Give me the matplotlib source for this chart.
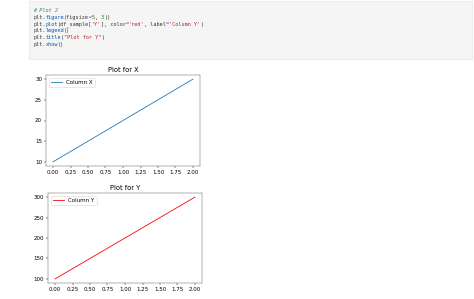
import matplotlib
matplotlib.use("Agg")
import matplotlib.pyplot as plt
from matplotlib.patches import Rectangle

# data shown in the two plots
idx = [0, 1, 2]
col_x = [10, 20, 30]
col_y = [100, 200, 300]
xticks = [0.0, 0.25, 0.5, 0.75, 1.0, 1.25, 1.5, 1.75, 2.0]

# code cell text, split into (token, kind) pieces
code_lines = [
    [("# Plot 2", "com")],
    [("plt.", "txt"), ("figure", "fn"), ("(figsize", "txt"), ("=", "op"),
     ("5", "num"), (", ", "txt"), ("3", "num"), ("))", "txt")],
    [("plt.", "txt"), ("plot", "fn"), ("(df_sample[", "txt"), ("'Y'", "str"),
     ("], color", "txt"), ("=", "op"), ("'red'", "str"), (", label", "txt"),
     ("=", "op"), ("'Column Y'", "str"), (")", "txt")],
    [("plt.", "txt"), ("legend", "fn"), ("()", "txt")],
    [("plt.", "txt"), ("title", "fn"), ("(", "txt"), ('"Plot for Y"', "str"), (")", "txt")],
    [("plt.", "txt"), ("show", "fn"), ("()", "txt")],
]
kind_color = {"com": "#408080", "txt": "#333333", "fn": "#0055aa",
              "op": "#aa22ff", "num": "#008800", "str": "#ba2121"}

W, H = 474, 299
s = 0.396  # scale from a 5x3 inch notebook figure
plt.rcParams.update({
    "font.size": 10 * s,
    "axes.titlesize": 12 * s,
    "axes.titlepad": 6 * s,
    "axes.linewidth": 0.8 * s,
    "axes.edgecolor": "#555555",
    "lines.linewidth": 1.5 * s,
    "xtick.major.size": 3.5 * s,
    "ytick.major.size": 3.5 * s,
    "xtick.major.width": 0.8 * s,
    "ytick.major.width": 0.8 * s,
    "xtick.major.pad": 3.5 * s,
    "ytick.major.pad": 3.5 * s,
    "legend.fontsize": 10 * s,
    "patch.linewidth": 1.0 * s,
})

fig = plt.figure(figsize=(W / 100, H / 100), dpi=100)

# code cell background
fig.patches.append(Rectangle((29 / W, 1 - 59 / H), 443 / W, 58 / H,
                             transform=fig.transFigure, facecolor="#f5f5f5",
                             edgecolor="#e6e6e6", linewidth=0.5))

charw = 3.09  # px per monospace char
fs_px = charw / 0.602
for i, line in enumerate(code_lines):
    col = 0
    y = 1 - (10.7 + i * 6.7) / H
    for tok, kind in line:
        fig.text((33 + col * charw) / W, y, tok, fontsize=fs_px * 0.72,
                 family="DejaVu Sans Mono", color=kind_color[kind],
                 style="italic" if kind == "com" else "normal", va="center")
        col += len(tok)

ax1 = fig.add_axes([46 / W, 1 - 166 / H, 154 / W, 91 / H])
ax1.plot(idx, col_x, color="#1f77b4", label="Column X")
ax1.set_xticks(xticks)
ax1.set_yticks([10, 15, 20, 25, 30])
ax1.legend(loc="upper left")
ax1.set_title("Plot for X")

ax2 = fig.add_axes([48 / W, 1 - 283 / H, 154 / W, 90 / H])
ax2.plot(idx, col_y, color="red", label="Column Y")
ax2.set_xticks(xticks)
ax2.set_yticks([100, 150, 200, 250, 300])
ax2.legend(loc="upper left")
ax2.set_title("Plot for Y")

fig.savefig("out.png", dpi=100)
